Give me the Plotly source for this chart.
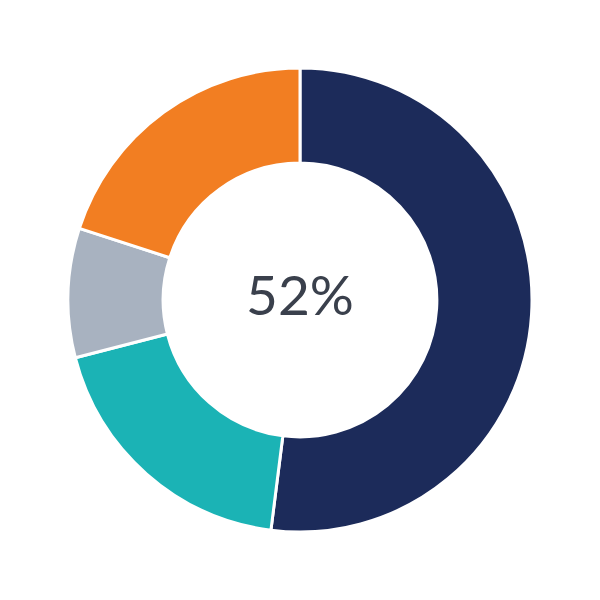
import plotly.graph_objects as go

labels = ["Navy", "Teal", "Gray", "Orange"]
values = [52, 19, 9, 20]
colors = ["#1c2b5a", "#1bb3b5", "#a8b2c0", "#f27e22"]
center_text = "52%"

fig = go.Figure(go.Pie(
    labels=labels,
    values=values,
    hole=0.59,
    sort=False,
    direction="clockwise",
    rotation=0,
    marker=dict(colors=colors, line=dict(color="white", width=3)),
    textinfo="none",
    hoverinfo="label+value",
    showlegend=False,
))

fig.add_annotation(
    text=center_text, x=0.5, y=0.5, xref="paper", yref="paper",
    showarrow=False, yshift=6,
    font=dict(family="Lato", size=55, color="#3a404c"),
)

fig.update_layout(
    width=600, height=600,
    margin=dict(l=60, r=76, t=60, b=76),
    paper_bgcolor="white", plot_bgcolor="white",
)

fig.write_html("out.html")
